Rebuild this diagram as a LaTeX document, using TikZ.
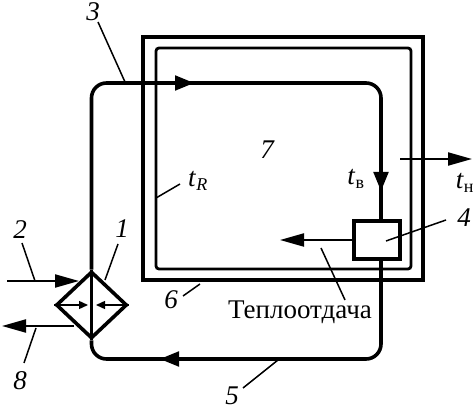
\documentclass[tikz,border=0pt]{standalone}
\usepackage{fontspec}
\setmainfont{Liberation Serif}
\usetikzlibrary{arrows.meta,shapes.geometric}

\begin{document}
\begin{tikzpicture}[x=1pt,y=-1pt,
	pipe/.style={line width=3.6pt},
	flow/.style={line width=2pt,-{Triangle[length=19pt,width=15pt]}},
	long flow/.style={line width=2pt,-{Triangle[length=24pt,width=13pt]}},
	small flow/.style={line width=1.4pt,-{Triangle[length=9pt,width=8pt]}},
	leader/.style={line width=1.5pt},
	number/.style={font=\itshape\fontsize{27}{28}\selectfont,inner sep=0pt},
	every node/.style={font=\fontsize{27}{30}\selectfont}]
	\useasboundingbox (0,0) rectangle (474,411);
	% walls
	\draw[line width=3.4pt] (143,37) rectangle (423,280);
	\draw[line width=2.8pt,rounded corners=3pt] (156,48) rectangle (411,269);
	% units
	\node[draw,diamond,line width=3.6pt,minimum width=71pt,minimum height=67pt,inner sep=0pt] (hx) at (91.5,305) {};
	\node[draw,rectangle,line width=3.6pt,minimum width=46pt,minimum height=37.6pt,inner sep=0pt,fill=white] (room) at (377,240) {};
	% pipe
	\coordinate (tl) at (91.5,83);
	\coordinate (tr) at (381,83);
	\coordinate (bl) at (91.5,359);
	\coordinate (br) at (381,359);
	\draw[pipe,rounded corners=15pt] (hx.north) -- (tl) -- (tr) -- (room.north -| tr);
	\draw[pipe,rounded corners=15pt] (hx.south) -- (bl) -- (br) -- (room.south -| br);
	\draw[pipe] (hx.north) -- (hx.south);
	\draw[flow] (172,83) -- (194,83);
	\draw[flow] (381,170) -- (381,191);
	\draw[flow] (185,359) -- (160,359);
	% heat exchanger
	\draw[small flow] (hx.west) -- (88,305);
	\draw[small flow] (hx.east) -- (96,305);
	\coordinate (in2) at (7,281);
	\coordinate (in2e) at (79,281);
	\coordinate (out8) at (74,326);
	\coordinate (out8e) at (2,326);
	\draw[long flow] (in2) -- (in2e);
	\draw[long flow] (out8) -- (out8e);
	% heat flows
	\coordinate (lossa) at (400,159);
	\coordinate (lossb) at (472,159);
	\coordinate (heat) at (280,240);
	\draw[long flow] (lossa) -- (lossb);
	\draw[long flow] (room.west) -- (heat);
	% labels
	\node[number] (n3) at (93,12) {3};
	\node[number] (n2) at (20,230) {2};
	\node[number] (n1) at (122,229) {1};
	\node[number] (n8) at (20,381) {8};
	\node[number] (n6) at (171,300) {6};
	\node[number] (n5) at (232,396) {5};
	\node[number] (n4) at (464,218) {4};
	\node[number] (n7) at (267,150) {7};
	\node (tR) at (198,181) {\textit{t}\textsubscript{\fontsize{18}{18}\selectfont\textit{R}}};
	\node (tv) at (356,179) {\textit{t}\textsubscript{\fontsize{18}{18}\selectfont в}};
	\node (tn) at (465,183) {\textit{t}\textsubscript{\fontsize{18}{18}\selectfont н}};
	\node (heatlabel) at (300,312) {Теплоотдача};
	% leaders
	\draw[leader] (98,22) -- (125,82);
	\draw[leader] (22,243) -- (35,281);
	\draw[leader] (118,244) -- (105,280);
	\draw[leader] (36,328) -- (24,363);
	\draw[leader] (183,296) -- (200,284);
	\draw[leader] (243,388) -- (278,360);
	\draw[leader] (386,241) -- (446,220);
	\draw[leader] (321,248) -- (345,300);
	\draw[leader] (180,184) -- (156,198);
\end{tikzpicture}
\end{document}
